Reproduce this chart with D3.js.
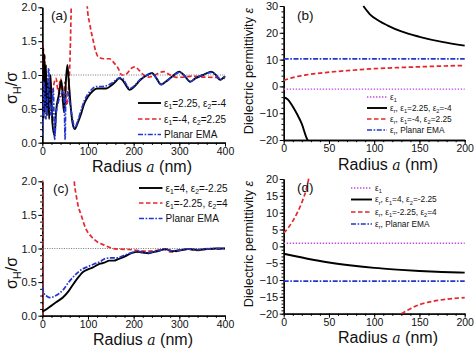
<!DOCTYPE html>
<html>
<head>
<meta charset="utf-8">
<script src="https://cdn.jsdelivr.net/npm/d3@7"></script>
<style>
body { margin: 0; background: #fff; }
svg { font-family: "Liberation Sans", Arial, sans-serif; }
</style>
</head>
<body>
<svg id="fig" width="474" height="348"></svg>
<script>
// ---- sigma_H / sigma versus radius, structure 1 (panel a)
var aBlack = [[0,1.45],[1,0.4],[2,1.4],[3,0.35],[4.5,1.3],[6,0.45],[8,1.15],[10,0.4],[12.5,0.9],[15,0.35],[18,1.0],[22,0.3],[27,0.1],[30,0.45],[36,0.7],[42,0.92],[46,0.55],[48,0.45],[52,0.95],[55,1.15],[58,0.9],[62,0.55],[66,0.3],[71,0.2],[78,0.3],[85,0.43],[92,0.58],[100,0.68],[110,0.76],[120,0.8],[130,0.8],[140,0.8],[150,0.84],[160,0.9],[168,0.95],[175,0.93],[183,0.85],[191,0.78],[200,0.82],[215,0.93],[230,1.0],[240,1.03],[250,0.95],[260,0.86],[270,0.9],[285,0.98],[300,1.05],[310,1.0],[324,0.9],[335,0.95],[355,1.01],[370,1.05],[380,1.0],[389,0.93],[400,0.985]]
var aRed = [[0,1.45],[1,1.0],[2,1.4],[3,1.05],[5,1.3],[7,0.9],[10,0.95],[13,0.55],[16,0.95],[20,0.6],[25,0.85],[30,0.95],[35,0.75],[40,0.95],[45,0.6],[50,0.9],[53,0.55],[57,0.75],[60,1.1],[62,1.6],[63.5,2.1],[64.5,2.6],[96,2.6],[98.5,2.0],[104,1.75],[111,1.52],[117,1.35],[122,1.27],[135,1.24],[147,1.24],[157,1.18],[166,1.1],[174,1.0],[185,1.02],[195,1.1],[203,1.12],[212,1.07],[222,1.0],[232,0.97],[245,0.99],[255,1.03],[265,1.05],[280,1.0],[294,0.965],[310,0.97],[330,0.985],[350,0.97],[374,0.965],[390,0.96],[400,0.95]]
var aBlue = [[0,0.1],[2,0.5],[4,0.9],[6,0.6],[8,0.35],[10,0.45],[14,1.1],[17,0.5],[20,0.4],[24,0.8],[27,0.05],[30,0.4],[35,0.6],[40,0.7],[45,0.75],[48,0.6],[50,0.05],[51.5,0.72],[55,0.75],[60,0.6],[65,0.4],[71,0.22],[78,0.33],[85,0.48],[92,0.62],[100,0.72],[110,0.8],[120,0.83],[130,0.83],[140,0.84],[150,0.87],[160,0.92],[170,0.96],[176,0.95],[183,0.87],[191,0.8],[200,0.83],[215,0.94],[230,1.0],[240,1.03],[250,0.95],[260,0.86],[270,0.9],[285,0.98],[300,1.04],[310,1.0],[324,0.9],[335,0.95],[355,1.01],[370,1.04],[380,1.0],[389,0.93],[400,0.98]]

// ---- permittivities, structure 1 (panel b)
var bEps1 = [[0,-1.0],[200,-1.0]]
var bBlackUpper = [[88,30],[95,27],[105,24.5],[115,22.7],[130,20.5],[150,18.5],[175,16.6],[200,15.2]]
var bBlackLower = [[0,-4],[5,-5],[10,-7.5],[15,-10.5],[20,-14],[25,-19],[27,-20.5]]
var bRed = [[0,2.2],[10,3.3],[25,4.3],[50,5.3],[75,6],[100,6.6],[125,7],[150,7.3],[175,7.6],[200,7.8]]
var bBlue = [[0,10.3],[200,10.3]]

// ---- sigma_H / sigma versus radius, structure 2 (panel c)
var cBlack = [[0,0.06],[10,0.1],[20,0.15],[30,0.2],[45,0.27],[58,0.37],[71,0.5],[80,0.58],[89,0.65],[100,0.69],[111,0.72],[125,0.77],[136,0.79],[147,0.82],[157,0.82],[165,0.84],[180,0.88],[195,0.93],[210,0.95],[220,0.94],[232,0.93],[245,0.95],[258,0.97],[270,0.99],[285,0.96],[300,0.97],[320,0.99],[340,0.98],[360,0.99],[380,1.0],[400,1.0]]
var cRed = [[0,0.0],[0.6,2.6],[66,2.6],[70,2.0],[74,1.8],[78,1.65],[85,1.5],[95,1.3],[107,1.18],[120,1.1],[136,1.05],[155,1.0],[170,0.99],[190,0.985],[210,0.97],[230,0.96],[250,0.97],[265,0.99],[280,0.95],[290,0.95],[300,0.975],[320,0.99],[340,0.97],[360,1.0],[380,0.99],[400,1.0]]
var cBlue = [[0,0.43],[4,0.33],[10,0.29],[17,0.27],[30,0.3],[45,0.38],[58,0.5],[71,0.6],[89,0.7],[100,0.73],[113,0.77],[125,0.8],[138,0.85],[150,0.86],[163,0.86],[180,0.9],[196,0.94],[210,0.96],[220,0.945],[232,0.935],[245,0.955],[258,0.975],[270,0.99],[285,0.965],[300,0.975],[320,0.99],[340,0.985],[360,0.995],[380,1.0],[400,1.0]]

// ---- permittivities, structure 2 (panel d)
var dEps1 = [[0,0.9],[200,0.9]]
var dBlack = [[0,-2.2],[25,-3.6],[50,-4.8],[75,-5.7],[100,-6.4],[125,-6.9],[150,-7.3],[175,-7.6],[200,-7.8]]
var dRedUpper = [[0,4],[5,5.5],[10,7.5],[15,10],[20,13],[25,17],[28,20.5]]
var dRedLower = [[130,-20],[140,-18.5],[150,-17.3],[165,-16.3],[180,-15.7],[200,-15.2]]
var dBlue = [[0,-10.3],[200,-10.3]]

// reference level sigma_H/sigma = 1
var unityLine = [[0,1],[400,1]]

// tick values
var sigmaXTicks = [0,100,200,300,400]
var sigmaYTicks = [0,0.5,1.0,1.5,2.0]
var bYTicks = [-20,-10,0,10,20,30]
var dYTicks = [-20,-15,-10,-5,0,5,10,15,20]
var epsXTicks = [0,50,100,150,200]

// legend texts: [text, isSubscript]
var legA = [
	[["ε",0],["1",1],["=2.25, ε",0],["2",1],["=-4",0]],
	[["ε",0],["1",1],["=-4, ε",0],["2",1],["=2.25",0]],
	[["Planar EMA",0]]
]
var legB = [
	[["ε",0],["1",1]],
	[["ε",0],["r",1],[", ε",0],["1",1],["=2.25, ε",0],["2",1],["=-4",0]],
	[["ε",0],["r",1],[", ε",0],["1",1],["=-4, ε",0],["2",1],["=2.25",0]],
	[["ε",0],["r",1],[", Planar EMA",0]]
]
var legC = [
	[["ε",0],["1",1],["=4, ε",0],["2",1],["=-2.25",0]],
	[["ε",0],["1",1],["=-2.25, ε",0],["2",1],["=4",0]],
	[["Planar EMA",0]]
]
var legD = [
	[["ε",0],["1",1]],
	[["ε",0],["r",1],[", ε",0],["1",1],["=4, ε",0],["2",1],["=-2.25",0]],
	[["ε",0],["r",1],[", ε",0],["1",1],["=-2.25, ε",0],["2",1],["=4",0]],
	[["ε",0],["r",1],[", Planar EMA",0]]
]

var STYLE = {
	black: {stroke: "#000", width: 1.9, dash: null},
	red: {stroke: "#e5262d", width: 1.7, dash: "4.5,2.5"},
	blue: {stroke: "#2337d0", width: 1.7, dash: "5,1.6,1.6,1.6"},
	eps1: {stroke: "#c04ae0", width: 1.4, dash: "1.4,1.6"},
	unity: {stroke: "#666", width: 0.9, dash: "1,1.4"}
}

var svg = d3.select("#fig")

function richText(sel, parts, size){
	var shifted = false
	parts.forEach(function(p){
		var t = sel.append("tspan").text(p[0])
		if(p[1]){
			t.attr("font-size", size * 0.68)
			if(!shifted){ t.attr("dy", size * 0.28); shifted = true }
		}else if(shifted){
			t.attr("dy", -size * 0.28); shifted = false
		}
	})
}

function minorRange(lo, hi, step){
	var out = []
	var n = Math.round((hi - lo) / step)
	for(var i = 0; i <= n; i++) out.push(lo + i * step)
	return out
}

function drawPanel(p){
	var x = d3.scaleLinear().domain(p.xDomain).range([p.left, p.right])
	var y = d3.scaleLinear().domain(p.yDomain).range([p.bottom, p.top])
	var g = svg.append("g")

	var clipId = "clip-" + p.name
	svg.append("clipPath").attr("id", clipId)
		.append("rect")
		.attr("x", p.left).attr("y", p.top - 1)
		.attr("width", p.right - p.left + 1)
		.attr("height", p.bottom - p.top + 1)

	// minor ticks
	g.append("g")
		.attr("transform", "translate(0," + p.bottom + ")")
		.call(d3.axisBottom(x).tickValues(minorRange(p.xDomain[0], p.xDomain[1], p.xMinor)).tickSize(2.2).tickSizeOuter(0).tickFormat(""))
	g.append("g")
		.attr("transform", "translate(" + p.left + ",0)")
		.call(d3.axisLeft(y).tickValues(minorRange(p.yDomain[0], p.yDomain[1], p.yMinor)).tickSize(2.2).tickSizeOuter(0).tickFormat(""))

	var xAxis = g.append("g")
		.attr("transform", "translate(0," + p.bottom + ")")
		.call(d3.axisBottom(x).tickValues(p.xTicks).tickSize(4).tickSizeOuter(0).tickPadding(0.5).tickFormat(d3.format("d")))
	var yAxis = g.append("g")
		.attr("transform", "translate(" + p.left + ",0)")
		.call(d3.axisLeft(y).tickValues(p.yTicks).tickSize(4).tickSizeOuter(0).tickPadding(1.5).tickFormat(p.yFormat))

	g.selectAll(".domain").attr("stroke", "#000").attr("stroke-width", 1.3)
	g.selectAll(".tick line").attr("stroke", "#000").attr("stroke-width", 1)
	xAxis.selectAll("text").attr("font-size", 10.5).attr("fill", "#111")
		.attr("font-family", "'Liberation Sans', Arial, sans-serif")
	yAxis.selectAll("text").attr("font-size", 11).attr("fill", "#111")
		.attr("font-family", "'Liberation Sans', Arial, sans-serif")

	var line = d3.line()
		.x(function(d){ return x(d[0]) })
		.y(function(d){ return y(d[1]) })
		.curve(d3.curveMonotoneX)

	var plot = g.append("g").attr("clip-path", "url(#" + clipId + ")")
	p.series.forEach(function(s){
		var st = STYLE[s.style]
		plot.append("path")
			.datum(s.data)
			.attr("d", line)
			.attr("fill", "none")
			.attr("stroke", st.stroke)
			.attr("stroke-width", st.width)
			.attr("stroke-dasharray", st.dash)
			.attr("stroke-linejoin", "round")
	})

	// legend
	var leg = g.append("g")
	p.legend.forEach(function(parts, i){
		var st = STYLE[p.legendStyles[i]]
		var ry = p.legendRows[i]
		leg.append("line")
			.attr("x1", p.legendX[0]).attr("x2", p.legendX[1])
			.attr("y1", ry).attr("y2", ry)
			.attr("stroke", st.stroke)
			.attr("stroke-width", st.width)
			.attr("stroke-dasharray", st.dash)
		var t = leg.append("text")
			.attr("x", p.legendX[1] + 3)
			.attr("y", ry + p.legendSize * 0.36)
			.attr("font-size", p.legendSize)
			.attr("fill", "#111")
		richText(t, parts, p.legendSize)
	})

	// panel tag
	g.append("text")
		.attr("x", p.tag[1]).attr("y", p.tag[2])
		.attr("font-size", 13.5)
		.attr("fill", "#111")
		.text(p.tag[0])

	// x label
	var xl = g.append("text")
		.attr("x", p.xLabelPos[0]).attr("y", p.xLabelPos[1])
		.attr("text-anchor", "middle")
		.attr("font-size", 16)
		.attr("fill", "#111")
	xl.append("tspan").text("Radius ")
	xl.append("tspan").attr("font-style", "italic").attr("font-family", "'DejaVu Serif', serif").attr("font-size", 14).text("a")
	xl.append("tspan").text(" (nm)")

	// y label
	var yl = g.append("text")
		.attr("transform", "translate(" + p.yLabelPos[0] + "," + p.yLabelPos[1] + ") rotate(-90)")
		.attr("text-anchor", "middle")
		.attr("font-size", p.yLabelSize)
		.attr("fill", "#111")
	if(p.yLabel == "sigma"){
		richText(yl, [["σ",0],["H",1],["/σ",0]], p.yLabelSize)
	}else{
		yl.append("tspan").text("Dielectric permittivity ")
		yl.append("tspan").attr("font-style", "italic").text("ε")
	}
}

drawPanel({
	name: "a", left: 42.3, right: 225, top: 7.3, bottom: 142.7,
	xDomain: [0,400], yDomain: [0,2], xTicks: sigmaXTicks, yTicks: sigmaYTicks,
	xMinor: 20, yMinor: 0.1, yFormat: d3.format(".1f"),
	series: [
		{data: unityLine, style: "unity"},
		{data: aRed, style: "red"},
		{data: aBlack, style: "black"},
		{data: aBlue, style: "blue"}
	],
	legend: legA, legendStyles: ["black","red","blue"], legendRows: [103,119,134.5],
	legendX: [138,161], legendSize: 10,
	tag: ["(a)", 51, 20], xLabelPos: [142,172], yLabelPos: [17,88], yLabel: "sigma", yLabelSize: 16
})

drawPanel({
	name: "b", left: 283.7, right: 464.7, top: 6, bottom: 140,
	xDomain: [0,200], yDomain: [-20,30], xTicks: epsXTicks, yTicks: bYTicks,
	xMinor: 10, yMinor: 2, yFormat: d3.format("d"),
	series: [
		{data: bEps1, style: "eps1"},
		{data: bBlue, style: "blue"},
		{data: bRed, style: "red"},
		{data: bBlackUpper, style: "black"},
		{data: bBlackLower, style: "black"}
	],
	legend: legB, legendStyles: ["eps1","black","red","blue"], legendRows: [97,108,119,130],
	legendX: [367,387], legendSize: 8.3,
	tag: ["(b)", 297, 20], xLabelPos: [388,170], yLabelPos: [253,71], yLabel: "eps", yLabelSize: 12.8
})

drawPanel({
	name: "c", left: 42.3, right: 225, top: 181.3, bottom: 315.7,
	xDomain: [0,400], yDomain: [0,2], xTicks: sigmaXTicks, yTicks: sigmaYTicks,
	xMinor: 20, yMinor: 0.1, yFormat: d3.format(".1f"),
	series: [
		{data: unityLine, style: "unity"},
		{data: cRed, style: "red"},
		{data: cBlack, style: "black"},
		{data: cBlue, style: "blue"}
	],
	legend: legC, legendStyles: ["black","red","blue"], legendRows: [188,203,218.5],
	legendX: [139,162.5], legendSize: 10,
	tag: ["(c)", 53, 193], xLabelPos: [143,345], yLabelPos: [17,273], yLabel: "sigma", yLabelSize: 16
})

drawPanel({
	name: "d", left: 283.7, right: 464.7, top: 179, bottom: 313.7,
	xDomain: [0,200], yDomain: [-20,20], xTicks: epsXTicks, yTicks: dYTicks,
	xMinor: 10, yMinor: 1, yFormat: d3.format("d"),
	series: [
		{data: dEps1, style: "eps1"},
		{data: dBlue, style: "blue"},
		{data: dRedUpper, style: "red"},
		{data: dRedLower, style: "red"},
		{data: dBlack, style: "black"}
	],
	legend: legD, legendStyles: ["eps1","black","red","blue"], legendRows: [188,199.5,212,224],
	legendX: [351,372], legendSize: 8.3,
	tag: ["(d)", 297, 192], xLabelPos: [388,343], yLabelPos: [253,244], yLabel: "eps", yLabelSize: 12.8
})
</script>
</body>
</html>
